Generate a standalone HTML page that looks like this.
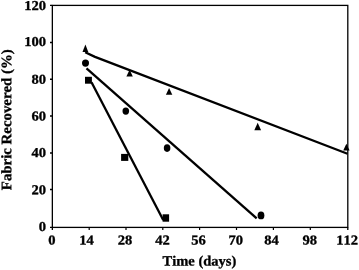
<!DOCTYPE html>
<html><head><meta charset="utf-8"><style>
html,body{margin:0;padding:0;background:#fff;width:359px;height:270px;overflow:hidden}
svg{display:block;text-rendering:geometricPrecision}
text{font-family:"Liberation Serif","Times New Roman",serif;font-weight:bold;fill:#000;stroke:#000;stroke-width:0.3px;font-kerning:none}
</style></head><body>
<svg width="359" height="270" viewBox="0 0 359 270">
<g stroke="#000" stroke-width="1.3" fill="none">
<rect x="52.35" y="5.4" width="295.45" height="222"/>
<path d="M50 5.4H52.3M50 227.4H52.3M52.35 227.4V229.9M347.8 227.4V229.9"/>
<path d="M50 42.4H52.3M50 79.2H52.3M50 115.9H52.3M50 153.0H52.3M50 189.6H52.3" stroke-width="1.5"/>
<path d="M89.2 227.4V229.9M126.0 227.4V229.9M162.8 227.4V229.9M199.6 227.4V229.9M236.5 227.4V229.9M273.4 227.4V229.9M310.3 227.4V229.9" stroke-width="1.2"/>
</g>
<g stroke="#000" stroke-width="2.3" fill="none" stroke-linecap="butt" stroke-linejoin="round">
<path d="M85.2 52.3L95 56.84L347.5 153.8"/>
<path d="M86.5 68.4L256.7 218.3"/>
<path d="M91.5 82.2L163.2 220"/>
</g>
<g fill="#000">
<path d="M85.4 44.6L88.3 51.9L82.5 51.9Z"/>
<path d="M129.6 69.8L132.8 76.4L126.4 76.4Z"/>
<path d="M169.1 88.1L172.3 94.8L165.9 94.8Z"/>
<path d="M257.7 122.8L261.1 130.3L254.3 130.3Z"/>
<path d="M346.4 143.8L349.6 150.4L343.2 150.4Z"/>
<ellipse cx="85.5" cy="63.05" rx="3.5" ry="3.6"/>
<ellipse cx="125.8" cy="111.1" rx="3.3" ry="3.6"/>
<ellipse cx="167.1" cy="148.1" rx="3.3" ry="3.8"/>
<ellipse cx="261" cy="215.45" rx="3.4" ry="3.9"/>
<rect x="85" y="76.8" width="6.9" height="6.9"/>
<rect x="121.1" y="153.9" width="7.2" height="7"/>
<rect x="162.6" y="214.3" width="6.5" height="7.4"/>
</g>
<g font-size="13.6" text-anchor="end">
<text transform="translate(46 9.93) rotate(0.05) scale(1.07 1)">120</text>
<text transform="translate(46 45.93) rotate(0.05) scale(1.07 1)">100</text>
<text transform="translate(46 83.68) rotate(0.05) scale(1.07 1)">80</text>
<text transform="translate(46 120.43) rotate(0.05) scale(1.07 1)">60</text>
<text transform="translate(46 156.93) rotate(0.05) scale(1.07 1)">40</text>
<text transform="translate(46 194.28) rotate(0.05) scale(1.07 1)">20</text>
<text transform="translate(46 231.03) rotate(0.05) scale(1.07 1)">0</text>
</g>
<g font-size="13.6" text-anchor="middle">
<text transform="translate(51.85 244.58) rotate(0.05) scale(1.07 1)">0</text>
<text transform="translate(86.46 244.58) rotate(0.05) scale(1.07 1)">14</text>
<text transform="translate(124.94 244.58) rotate(0.05) scale(1.07 1)">28</text>
<text transform="translate(162.47 244.58) rotate(0.05) scale(1.07 1)">42</text>
<text transform="translate(198.58 244.58) rotate(0.05) scale(1.07 1)">56</text>
<text transform="translate(235.82 244.58) rotate(0.05) scale(1.07 1)">70</text>
<text transform="translate(271.56 244.58) rotate(0.05) scale(1.07 1)">84</text>
<text transform="translate(309.65 244.58) rotate(0.05) scale(1.07 1)">98</text>
<text transform="translate(347.19 244.58) rotate(0.05) scale(1.07 1)">112</text>
</g>
<text transform="translate(199.4 265.5) rotate(0.05) scale(1.03 1)" font-size="14.1" text-anchor="middle">Time (days)</text>
<text transform="translate(11.3 119.7) rotate(-89.95) scale(1.023 1)" font-size="14.5" text-anchor="middle">Fabric Recovered (%)</text>
</svg>
</body></html>
